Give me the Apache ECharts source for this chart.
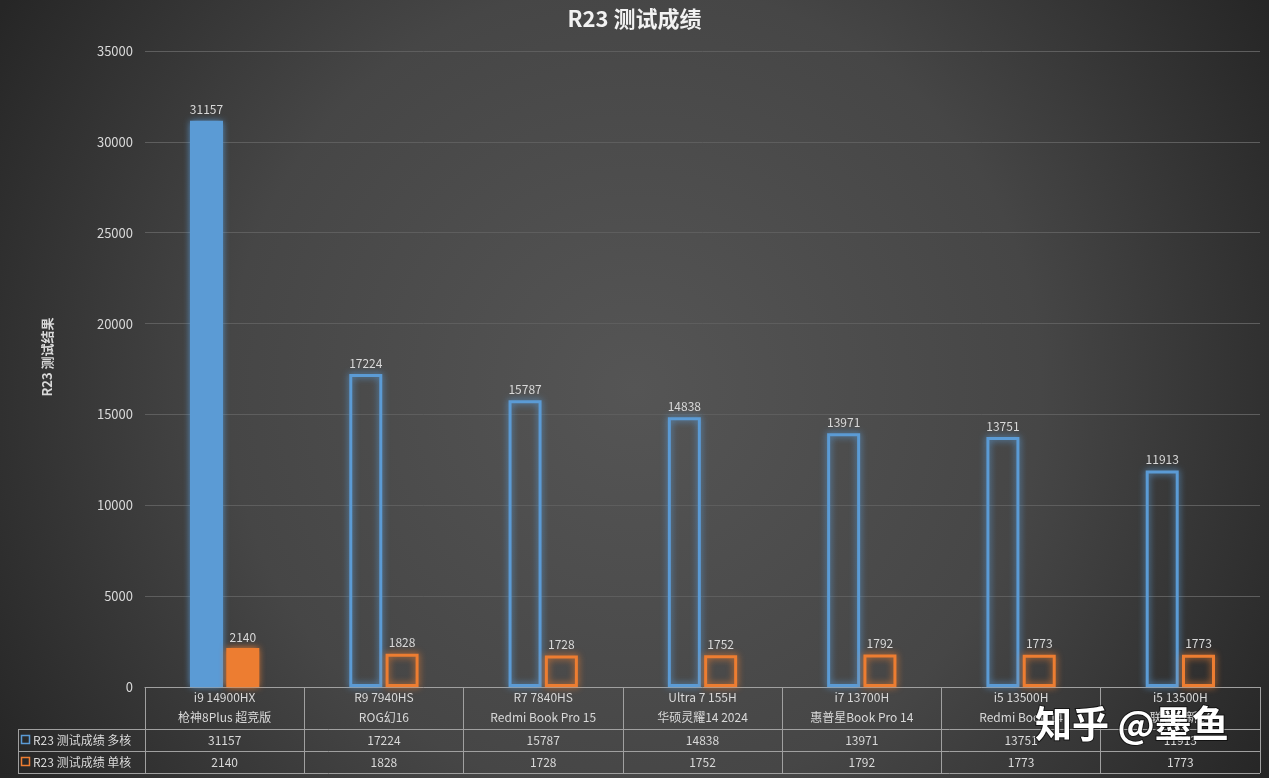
<!DOCTYPE html>
<html>
<head>
<meta charset="utf-8">
<script src="https://cdn.jsdelivr.net/npm/echarts@6/dist/echarts.min.js"></script>
<style>html,body{margin:0;padding:0;background:#333;}#c{width:1269px;height:778px;}</style>
</head>
<body>
<div id="c"></div>
<script>
const titleText = 'R23 测试成绩';
const yAxisName = 'R23 测试结果';
const cpuNames = ['i9 14900HX', 'R9 7940HS', 'R7 7840HS', 'Ultra 7 155H', 'i7 13700H', 'i5 13500H', 'i5 13500H'];
const laptopNames = ['枪神8Plus 超竞版', 'ROG幻16', 'Redmi Book Pro 15', '华硕灵耀14 2024', '惠普星Book Pro 14', 'Redmi Book 14', '联想小新14'];
const seriesNames = ['R23 测试成绩 多核', 'R23 测试成绩 单核'];
const multiCore = [31157, 17224, 15787, 14838, 13971, 13751, 11913];
const singleCore = [2140, 1828, 1728, 1752, 1792, 1773, 1773];
const filledIndex = 0;
const yTicks = [0, 5000, 10000, 15000, 20000, 25000, 30000, 35000];
const watermark = '知乎 @墨鱼';

const BLUE = '#5b9bd5', ORANGE = '#ed7d31';
const TXT = '#d9d9d9', LINE = '#a0a0a0';
const FONT = '"Noto Sans CJK SC", "Noto Sans", sans-serif';

const categories = cpuNames.map((c, i) => c + '\n' + laptopNames[i]);

function makeData(vals, color) {
  return vals.map((v, i) => ({
    value: v,
    itemStyle: i === filledIndex
      ? { color: color, borderColor: color, borderWidth: 0, shadowBlur: 7, shadowColor: color }
      : { color: 'rgba(0,0,0,0)', borderColor: color, borderWidth: 3, shadowBlur: 7, shadowColor: color }
  }));
}

const chart = echarts.init(document.getElementById('c'));
const gridLeft = 145, gridRight = 9, gridTop = 51, gridBottom = 91;

function rowLabel(idx, color, y) {
  return [
    { type: 'rect', shape: { x: 21.5, y: y - 4.5, width: 8, height: 8 }, style: { fill: 'none', stroke: color, lineWidth: 1.5 }, z: 10 },
    { type: 'text', x: 33, y: y, style: { text: seriesNames[idx], fill: TXT, font: '12px ' + FONT, verticalAlign: 'middle', align: 'left' }, z: 10 }
  ];
}

const hl = (y) => ({ type: 'line', shape: { x1: 18, y1: y + 0.5, x2: 1269 - gridRight, y2: y + 0.5 }, style: { stroke: LINE, lineWidth: 1 }, z: 5 });

const option = {
  backgroundColor: {
    type: 'radial', x: 0.5, y: 0.5, r: 0.95,
    colorStops: [{ offset: 0, color: '#555555' }, { offset: 0.55, color: '#464646' }, { offset: 1, color: '#262626' }]
  },
  animation: false,
  textStyle: { fontFamily: FONT },
  title: {
    text: titleText, left: 'center', top: 3,
    textStyle: { color: '#f2f2f2', fontSize: 22, fontWeight: 'bold', fontFamily: FONT }
  },
  grid: { left: gridLeft, right: gridRight, top: gridTop, bottom: gridBottom, containLabel: false },
  xAxis: [
    {
      type: 'category', data: categories, position: 'bottom',
      axisLine: { show: true, lineStyle: { color: LINE, width: 1 } },
      axisTick: { show: true, length: 86, alignWithLabel: false, lineStyle: { color: LINE, width: 1 } },
      axisLabel: { interval: 0, color: TXT, fontSize: 12, lineHeight: 20, margin: 0, fontFamily: FONT }
    },
    {
      type: 'category', data: categories, position: 'bottom', offset: 42,
      axisLine: { show: false }, axisTick: { show: false },
      axisLabel: { interval: 0, color: TXT, fontSize: 12, margin: 5, fontFamily: FONT, formatter: (v, i) => String(multiCore[i]) }
    },
    {
      type: 'category', data: categories, position: 'bottom', offset: 64,
      axisLine: { show: false }, axisTick: { show: false },
      axisLabel: { interval: 0, color: TXT, fontSize: 12, margin: 5, fontFamily: FONT, formatter: (v, i) => String(singleCore[i]) }
    }
  ],
  yAxis: {
    type: 'value', min: yTicks[0], max: yTicks[yTicks.length - 1], interval: yTicks[1] - yTicks[0],
    axisLine: { show: false }, axisTick: { show: false },
    axisLabel: { color: TXT, fontSize: 13, margin: 12, fontFamily: FONT, formatter: (v) => String(v) },
    splitLine: { lineStyle: { color: '#5e5e5e', width: 1 } }
  },
  series: [
    {
      name: seriesNames[0], type: 'bar', barWidth: 33, barGap: '10%',
      data: makeData(multiCore, BLUE),
      label: { show: true, position: 'top', distance: 5, color: TXT, fontSize: 12, fontFamily: FONT }
    },
    {
      name: seriesNames[1], type: 'bar', barWidth: 33, barGap: '10%',
      data: makeData(singleCore, ORANGE),
      label: { show: true, position: 'top', distance: 5, color: TXT, fontSize: 12, fontFamily: FONT }
    }
  ],
  graphic: [
    hl(729), hl(751), hl(773),
    { type: 'line', shape: { x1: 18.5, y1: 729, x2: 18.5, y2: 773 }, style: { stroke: LINE, lineWidth: 1 }, z: 5 },
    ...rowLabel(0, BLUE, 740),
    ...rowLabel(1, ORANGE, 762),
    {
      type: 'text', x: 47, y: 357, rotation: Math.PI / 2, z: 10,
      style: { text: yAxisName, fill: TXT, font: 'bold 13px ' + FONT, align: 'center', verticalAlign: 'middle' }
    },
    {
      type: 'text', x: 1035, y: 724, z: 100,
      style: {
        text: watermark, fill: '#ffffff', font: 'bold 37px ' + FONT, verticalAlign: 'middle', align: 'left',
        stroke: 'rgba(0,0,0,0.6)', lineWidth: 2, shadowBlur: 3, shadowColor: 'rgba(0,0,0,0.8)', shadowOffsetX: 1, shadowOffsetY: 1
      }
    }
  ]
};
chart.setOption(option);
</script>
</body>
</html>
